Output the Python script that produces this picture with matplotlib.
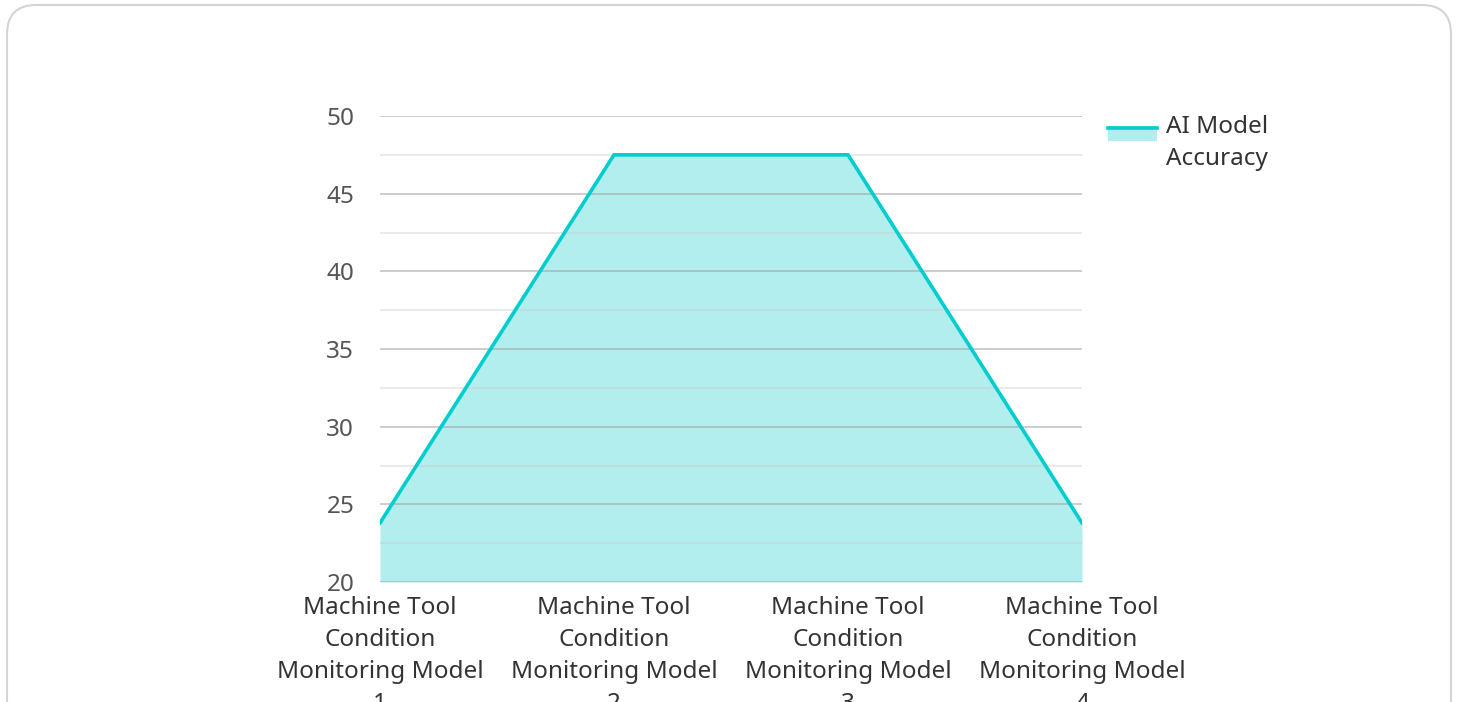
import matplotlib.pyplot as plt
from matplotlib.patches import FancyBboxPatch, Rectangle
from matplotlib.lines import Line2D

plt.rcParams['font.family'] = ['Noto Sans', 'DejaVu Sans']

models = ['Machine Tool\nCondition\nMonitoring Model\n1',
          'Machine Tool\nCondition\nMonitoring Model\n2',
          'Machine Tool\nCondition\nMonitoring Model\n3',
          'Machine Tool\nCondition\nMonitoring Model\n4']
accuracy = [23.8, 47.5, 47.5, 23.8]
y_ticks = [20, 25, 30, 35, 40, 45, 50]
series_name = 'AI Model\nAccuracy'

line_color = '#00cdcd'
fill_color = '#b2eeee'
font_size = 17.5

fig = plt.figure(figsize=(14.58, 7.02), dpi=100)

# card background with rounded corners
card = FancyBboxPatch((7 / 1458, -0.05), 1444 / 1458, 1.0 - 5 / 702 + 0.05,
                      boxstyle='round,pad=0,rounding_size=0.02',
                      transform=fig.transFigure, facecolor='white',
                      edgecolor='#d4d4d4', linewidth=1.5,
                      mutation_aspect=1458 / 702, zorder=-5)
fig.add_artist(card)

ax = fig.add_axes([380 / 1458, 1 - 582 / 702, 702 / 1458, 466 / 702])
ax.set_facecolor('none')

x = list(range(len(models)))
ax.fill_between(x, 20, accuracy, color=fill_color, linewidth=0, zorder=1)
ax.plot(x, accuracy, color=line_color, linewidth=2.6, zorder=3,
        solid_joinstyle='miter')

ax.set_xlim(0, len(models) - 1)
ax.set_ylim(20, 50)
ax.set_yticks(y_ticks)
ax.set_yticks([v + 2.5 for v in y_ticks[:-1]], minor=True)
ax.set_xticks(x)
ax.set_xticklabels(models, linespacing=1.45, fontsize=font_size, color='#333333')
ax.tick_params(axis='y', which='both', length=0, pad=18.5, labelsize=font_size,
               labelcolor='#555555')
ax.tick_params(axis='x', length=0, pad=10)

ax.grid(axis='y', which='major', color='#9e9e9e', alpha=0.6, linewidth=1.2,
        zorder=2)
ax.grid(axis='y', which='minor', color='#c8c8c8', alpha=0.45, linewidth=1.2,
        zorder=2)
ax.set_axisbelow(False)
for s in ax.spines.values():
    s.set_visible(False)

# legend: line over a filled swatch
fig.add_artist(Rectangle((1108 / 1458, 1 - 141 / 702), 49 / 1458, 15 / 702,
                         transform=fig.transFigure, facecolor=fill_color,
                         edgecolor='none'))
fig.add_artist(Line2D([1108 / 1458, 1157 / 1458], [1 - 127.5 / 702] * 2,
                      transform=fig.transFigure, color=line_color,
                      linewidth=2.6))
fig.text(1166 / 1458, 1 - 115 / 702, series_name, ha='left', va='top',
         fontsize=font_size, color='#333333', linespacing=1.45)

fig.savefig('out.png', dpi=100)
